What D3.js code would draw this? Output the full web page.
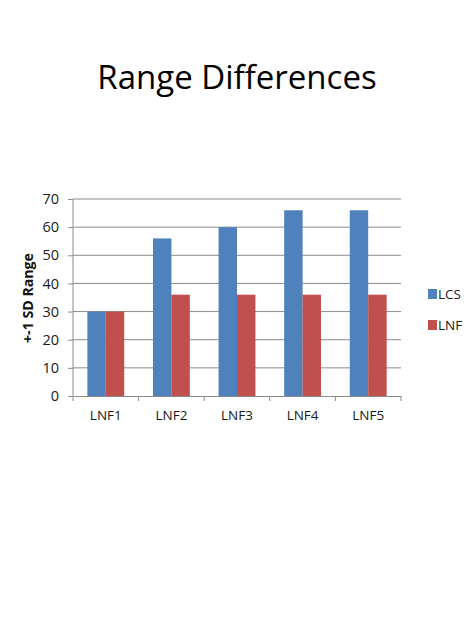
<!DOCTYPE html>
<html><head><meta charset="utf-8">
<script src="https://cdn.jsdelivr.net/npm/d3@7"></script>
<style>body{margin:0;background:#fff}svg{display:block}</style>
</head><body>
<script>
const categories = ["LNF1","LNF2","LNF3","LNF4","LNF5"];
const seriesNames = ["LCS","LNF"];
const lcsValues = [30,56,60,66,66];
const lnfValues = [30,36,36,36,36];
const yTicks = [0,10,20,30,40,50,60,70];
const colors = ["#4F81BD","#C0504D"];
const font = "'Open Sans', 'Liberation Sans', sans-serif";

(function(){
const W=474,H=631;
const svg=d3.select("body").append("svg").attr("width",W).attr("height",H);
svg.append("text").attr("x",237).attr("y",89).attr("text-anchor","middle")
  .attr("font-family",font).attr("font-size",33).attr("fill","#000").text("Range Differences");

const pl=73,pr=401,pt=199,pb=396;
const x=d3.scaleBand().domain(categories).range([pl,pr]);
const xs=d3.scaleBand().domain(seriesNames).range([0,x.bandwidth()]).paddingInner(0).paddingOuter(0.78);
const y=d3.scaleLinear().domain([0,70]).range([pb,pt]);

svg.append("g").selectAll("line").data(yTicks.filter(d=>d>0)).join("line")
  .attr("x1",pl).attr("x2",pr).attr("y1",d=>y(d)).attr("y2",d=>y(d))
  .attr("stroke","#8c8c8c").attr("stroke-width",1);

const data=categories.map((c,i)=>({c,vals:[lcsValues[i],lnfValues[i]]}));
const g=svg.append("g");
data.forEach(d=>{
  seriesNames.forEach((s,j)=>{
    g.append("rect").attr("x",x(d.c)+xs(s)).attr("width",xs.bandwidth())
     .attr("y",y(d.vals[j])).attr("height",y(0)-y(d.vals[j])).attr("fill",colors[j]);
  });
});

const ya=svg.append("g").attr("transform",`translate(${pl},0)`)
  .call(d3.axisLeft(y).tickValues(yTicks).tickSize(5).tickPadding(9));
ya.select(".domain").attr("stroke","#8c8c8c").attr("d",`M0,${pt}V${pb}`);
ya.selectAll(".tick line").attr("stroke","#8c8c8c");
ya.selectAll("text").attr("font-family",font).attr("font-size",14.5).attr("fill","#1a1a1a");

const xa=svg.append("g").attr("transform",`translate(0,${pb})`)
  .call(d3.axisBottom(x).tickSize(0).tickPadding(14));
xa.select(".domain").attr("stroke","#8c8c8c");
xa.selectAll("text").attr("font-family",font).attr("font-size",13.5).attr("fill","#1a1a1a");
svg.append("g").selectAll("line").data(d3.range(categories.length+1)).join("line")
  .attr("x1",i=>pl+i*x.step()).attr("x2",i=>pl+i*x.step())
  .attr("y1",pb).attr("y2",pb+5).attr("stroke","#8c8c8c");

svg.append("text").attr("transform",`translate(33,298) rotate(-90)`)
  .attr("text-anchor","middle").attr("font-family",font).attr("font-weight","bold")
  .attr("font-size",14).attr("textLength",90).attr("lengthAdjust","spacingAndGlyphs")
  .attr("fill","#111").text("+-1 SD Range");

const lg=svg.append("g");
seriesNames.forEach((s,j)=>{
  const yy=289+j*31;
  lg.append("rect").attr("x",428).attr("y",yy).attr("width",9).attr("height",10).attr("fill",colors[j]);
  lg.append("text").attr("x",438).attr("y",yy+10).attr("font-family",font).attr("font-size",13.5)
    .attr("fill","#1a1a1a").text(s);
});
})();
</script>
</body></html>
